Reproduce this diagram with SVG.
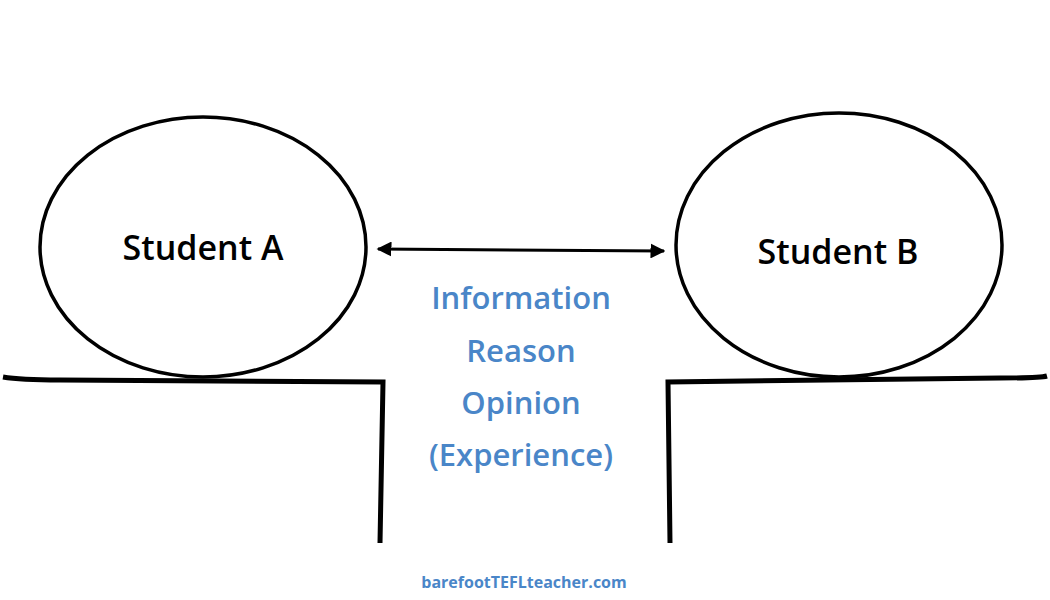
<svg xmlns="http://www.w3.org/2000/svg" width="1050" height="600" viewBox="0 0 1050 600">
<style>
.outline{fill:none;stroke:#000;stroke-width:3.5}
.ledge{fill:none;stroke:#000;stroke-width:5;stroke-linejoin:miter}
.label{font-family:"Open Sans","Liberation Sans",sans-serif;font-weight:600;font-size:34px;fill:#000;text-anchor:middle}
.blue{font-family:"Open Sans","Liberation Sans",sans-serif;font-weight:600;font-size:31px;fill:#4a86c8;text-anchor:middle}
.foot{font-family:"Open Sans","Liberation Sans",sans-serif;font-weight:700;font-size:16px;fill:#4a86c8;text-anchor:middle}
</style>
<defs>
<marker id="ah" viewBox="0 0 10 10" refX="9" refY="5" markerWidth="5" markerHeight="5" orient="auto-start-reverse" markerUnits="strokeWidth">
<path d="M0,0 L10,5 L0,10 z" fill="#000"/>
</marker>
</defs>
<rect width="1050" height="600" fill="#fff"/>
<g id="ledge-left"><path class="ledge" d="M3,377 Q20,380 60,380 L383,382 L380,543"/></g>
<g id="ledge-right"><path class="ledge" d="M670,543 L668,382 L1000,378 Q1040,378 1047,376"/></g>
<g id="student-a">
<ellipse class="outline" cx="203" cy="247" rx="163" ry="130"/>
<text class="label" x="203" y="260">Student A</text>
</g>
<g id="student-b">
<ellipse class="outline" cx="839" cy="245" rx="163" ry="132"/>
<text class="label" x="838" y="264">Student B</text>
</g>
<g id="connectors">
<line x1="378" y1="249" x2="664" y2="251" stroke="#000" stroke-width="3" marker-start="url(#ah)" marker-end="url(#ah)"/>
</g>
<g id="topics">
<text class="blue" x="521" y="309">Information</text>
<text class="blue" x="521" y="362">Reason</text>
<text class="blue" x="521" y="414">Opinion</text>
<text class="blue" x="521" y="466">(Experience)</text>
</g>
<text class="foot" x="524" y="588">barefootTEFLteacher.com</text>
</svg>
